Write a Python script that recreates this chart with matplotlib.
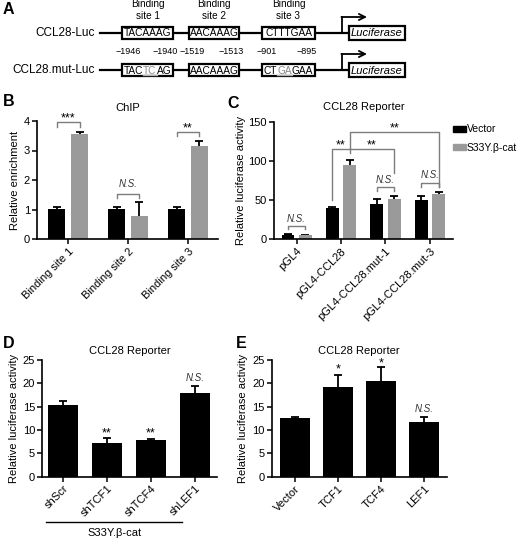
import numpy as np
import matplotlib
matplotlib.use("Agg")
import matplotlib.pyplot as plt
from matplotlib.patches import Rectangle, Patch
from matplotlib.transforms import blended_transform_factory

plt.rcParams['font.family'] = ['Liberation Sans', 'DejaVu Sans']
plt.rcParams['font.size'] = 8

GRAY = '#9a9a9a'
BRK = '#7d7d7d'
MUT = '#8a8a8a'

# ---- A: promoter schematic
construct_names = ['CCL28-Luc', 'CCL28.mut-Luc']
site_names = ['Binding\nsite 1', 'Binding\nsite 2', 'Binding\nsite 3']
wt_seqs = [['TACAAAG'], ['AACAAAG'], ['CTTTGAA']]
mut_seqs = [['TAC', 'TC', 'AG'], ['AACAAAG'], ['CT', 'GA', 'GAA']]
site_coords = ['−1946', '−1940', '−1519', '−1513', '−901', '−895']

# ---- B: ChIP
chip_sites = ['Binding site 1', 'Binding site 2', 'Binding site 3']
chip_vec = [1.02, 1.02, 1.01]
chip_vec_err = [0.07, 0.08, 0.07]
chip_s33y = [3.55, 0.79, 3.16]
chip_s33y_err = [0.07, 0.45, 0.17]

# ---- C: reporter with mutants
rep_groups = ['pGL4', 'pGL4-CCL28', 'pGL4-CCL28.mut-1', 'pGL4-CCL28.mut-3']
rep_vec = [5.5, 40, 45.5, 50]
rep_vec_err = [0.8, 1.2, 5.2, 5.5]
rep_s33y = [4.5, 95.5, 51.3, 57.3]
rep_s33y_err = [0.8, 6.4, 3.8, 3.4]

# ---- D: shRNA knockdown
sh_groups = ['shScr', 'shTCF1', 'shTCF4', 'shLEF1']
sh_vals = [15.4, 7.3, 7.85, 17.9]
sh_err = [0.8, 0.9, 0.15, 1.6]
sh_marks = ['', '**', '**', 'N.S.']

# ---- E: overexpression
tf_groups = ['Vector', 'TCF1', 'TCF4', 'LEF1']
tf_vals = [12.5, 19.15, 20.6, 11.8]
tf_err = [0.35, 2.65, 2.8, 1.05]
tf_marks = ['', '*', '*', 'N.S.']

W, H = 520, 540
fig = plt.figure(figsize=(W / 100, H / 100), dpi=100)


def px_axes(l, r, t, b):
    return fig.add_axes([l / W, 1 - b / H, (r - l) / W, (b - t) / H])


def style(ax):
    for s in ['top', 'right']:
        ax.spines[s].set_visible(False)
    for s in ['left', 'bottom']:
        ax.spines[s].set_linewidth(1.2)
    ax.tick_params(direction='out', length=3.5, width=1.1, labelsize=8, pad=1.5)


def bars(ax, x, vals, err, color, width):
    ax.bar(x, vals, width, color=color, edgecolor='none', zorder=2)
    ax.errorbar(x, vals, yerr=err, fmt='none', ecolor='black', elinewidth=1.3,
                capsize=3, capthick=1.3, zorder=1)


def bracket(ax, x1, x2, y, d1, d2, color=BRK):
    ax.plot([x1, x1, x2, x2], [d1, y, y, d2], color=color, lw=1, clip_on=False)


def ns(ax, x, y):
    ax.text(x, y, 'N.S.', ha='center', va='baseline', style='italic',
            fontsize=7, color='#333333', clip_on=False)


def stars(ax, x, y, s):
    ax.text(x, y, s, ha='center', va='baseline', fontsize=9, clip_on=False)


def xlabels(ax, labels):
    ax.set_xticks(np.arange(len(labels)))
    ax.set_xticklabels(labels, rotation=45, ha='right', rotation_mode='anchor')


# ---------------- A
axA = fig.add_axes([0, 0, 1, 1])
axA.set_xlim(0, W)
axA.set_ylim(H, 0)
axA.set_axis_off()
axA.patch.set_alpha(0)
renderer = fig.canvas.get_renderer()

box_x = [(122, 173), (189, 239), (262, 315)]
rows = [33, 70]
for name, y, seqs in zip(construct_names, rows, [wt_seqs, mut_seqs]):
    axA.plot([100, 349], [y, y], color='k', lw=1.6, zorder=1)
    axA.text(95, y, name, ha='right', va='center', fontsize=8.5)
    for (x0, x1), parts in zip(box_x, seqs):
        axA.add_patch(Rectangle((x0, y - 6), x1 - x0, 12, fc='white', ec='k', lw=1.6, zorder=2))
        # lay the sequence out piece by piece so the mutated bases can be grey
        texts = []
        for i, p in enumerate(parts):
            c = MUT if (len(parts) == 3 and i == 1) else 'k'
            texts.append(axA.text(0, y + 0.5, p, ha='left', va='center', fontsize=7.3, color=c, zorder=3))
        widths = [t.get_window_extent(renderer).width for t in texts]
        xs = (x0 + x1) / 2 - sum(widths) / 2
        for i, (t, w) in enumerate(zip(texts, widths)):
            t.set_x(xs)
            if len(parts) == 3 and i == 1:
                axA.plot([xs, xs + w], [y + 5, y + 5], color='#b0b0b0', lw=1, zorder=3)
            xs += w
    axA.add_patch(Rectangle((349, y - 7), 56, 14, fc='white', ec='k', lw=1.6, zorder=2))
    axA.text(377, y + 0.5, 'Luciferase', style='italic', ha='center', va='center', fontsize=8, zorder=3)
    axA.plot([342, 342], [y, y - 16], color='k', lw=1.3)
    axA.annotate('', xy=(367, y - 16), xytext=(341.4, y - 16),
                 arrowprops=dict(arrowstyle='->', lw=1.3, color='k', shrinkA=0, shrinkB=0,
                                 mutation_scale=11))

for (x0, x1), s in zip(box_x, site_names):
    axA.text((x0 + x1) / 2, 10, s, ha='center', va='center', fontsize=7.2, linespacing=1.25)
for x, s in zip([128.5, 165, 192, 231, 266.5, 307], site_coords):
    axA.text(x, 52, s, ha='center', va='center', fontsize=6.5)

for lab, x, y in [('A', 3, 9), ('B', 3, 101), ('C', 227, 104), ('D', 3, 343), ('E', 236, 343)]:
    axA.text(x, y, lab, fontsize=11.5, fontweight='bold', ha='left', va='center')

# ---------------- B
axB = px_axes(37, 218, 121, 239)
style(axB)
o = 0.19
xb = np.arange(len(chip_sites))
bars(axB, xb - o, chip_vec, chip_vec_err, 'black', 0.28)
bars(axB, xb + o, chip_s33y, chip_s33y_err, GRAY, 0.28)
axB.set_xlim(-0.52, 2.5)
axB.set_ylim(0, 4)
axB.set_yticks([0, 1, 2, 3, 4])
xlabels(axB, chip_sites)
axB.set_ylabel('Relative enrichment', fontsize=8, labelpad=3)
axB.set_title('ChIP', fontsize=8, pad=7)
bracket(axB, -o, o, 3.97, 3.8, 3.8)
stars(axB, 0, 3.97, '***')
bracket(axB, 1 - o, 1 + o, 1.53, 1.4, 1.4)
ns(axB, 1, 1.75)
bracket(axB, 2 - o, 2 + o, 3.63, 3.5, 3.5)
stars(axB, 2, 3.63, '**')

# ---------------- C
axC = px_axes(274, 453, 122, 239)
style(axC)
o = 0.196
xc = np.arange(len(rep_groups))
bars(axC, xc - o, rep_vec, rep_vec_err, 'black', 0.29)
bars(axC, xc + o, rep_s33y, rep_s33y_err, GRAY, 0.29)
axC.set_xlim(-0.51, 3.52)
axC.set_ylim(0, 150)
axC.set_yticks([0, 50, 100, 150])
xlabels(axC, rep_groups)
axC.set_ylabel('Relative luciferase activity', fontsize=8, labelpad=2)
axC.set_title('CCL28 Reporter', fontsize=8, pad=9)
bracket(axC, -o, o, 16.7, 12.8, 12.8)
ns(axC, 0, 22.2)
bracket(axC, 2 - o, 2 + o, 66.3, 61.5, 61.5)
ns(axC, 2, 72)
bracket(axC, 3 - o, 3 + o, 72.2, 67, 67)
ns(axC, 3, 78.6)
bracket(axC, 1 - o, 2 + o, 115, 50, 85)
axC.plot([1 + o, 1 + o], [115, 110], color=BRK, lw=1, clip_on=False)
bracket(axC, 1 + o, 3 + o, 137, 115, 67)
stars(axC, 1.0, 116, '**')
stars(axC, 1.0 + o + 0.5, 116, '**')
stars(axC, 2.196, 138, '**')
axC.legend(handles=[Patch(color='black', label='Vector'), Patch(color=GRAY, label='S33Y.β-cat')],
           loc='upper left', bbox_to_anchor=(1.0, 0.98), frameon=False, fontsize=7.5,
           handlelength=1.2, handleheight=0.55, handletextpad=0.15, labelspacing=0.8,
           borderaxespad=0, borderpad=0)

# ---------------- D
axD = px_axes(42, 217, 360, 476.7)
style(axD)
xd = np.arange(len(sh_groups))
bars(axD, xd, sh_vals, sh_err, 'black', 0.7)
axD.set_xlim(-0.48, 3.5)
axD.set_ylim(0, 25)
axD.set_yticks([0, 5, 10, 15, 20, 25])
xlabels(axD, sh_groups)
axD.set_ylabel('Relative luciferase activity', fontsize=8, labelpad=3)
axD.set_title('CCL28 Reporter', fontsize=8, pad=4)
for x, m, v, e in zip(xd, sh_marks, sh_vals, sh_err):
    if m == 'N.S.':
        ns(axD, x, 20.4)
    elif m:
        stars(axD, x, 8.6, m)
tr = blended_transform_factory(axD.transData, fig.transFigure)
axD.plot([-0.4, 2.7], [1 - 522 / H, 1 - 522 / H], color='k', lw=1, transform=tr, clip_on=False)
axD.text(1.16, 1 - 533 / H, 'S33Y.β-cat', ha='center', va='center', fontsize=8, transform=tr)

# ---------------- E
axE = px_axes(271.7, 446.7, 360, 476.7)
style(axE)
xe = np.arange(len(tf_groups))
bars(axE, xe, tf_vals, tf_err, 'black', 0.7)
axE.set_xlim(-0.54, 3.52)
axE.set_ylim(0, 25)
axE.set_yticks([0, 5, 10, 15, 20, 25])
xlabels(axE, tf_groups)
axE.set_ylabel('Relative luciferase activity', fontsize=8, labelpad=3)
axE.set_title('CCL28 Reporter', fontsize=8, pad=4)
for x, m, y in zip(xe, tf_marks, [0, 22.4, 23.7, 13.9]):
    if m == 'N.S.':
        ns(axE, x, y)
    elif m:
        stars(axE, x, y, m)

fig.savefig('out.png', dpi=100)
